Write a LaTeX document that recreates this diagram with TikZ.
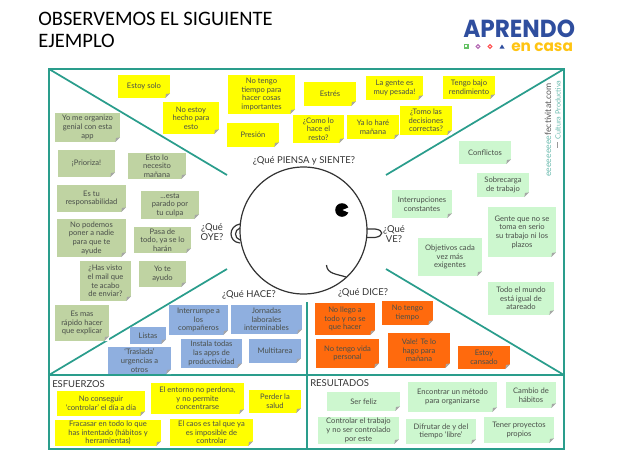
\documentclass[tikz,border=0pt]{standalone}
\usepackage{fontspec}
\usepackage{xcolor}
\setmainfont{Lato}
\newfontfamily\titlefont{Carlito}
\newfontfamily\logofont{Poppins}
\usetikzlibrary{positioning}
\definecolor{Map_Teal}{HTML}{2A9D8C}
\definecolor{Note_Yellow}{HTML}{FFFF00}
\definecolor{Note_Sage}{HTML}{BFD3A2}
\definecolor{Note_Blue}{HTML}{8FAFDF}
\definecolor{Note_Orange}{HTML}{FF6A0D}
\definecolor{Note_Mint}{HTML}{CDF7CF}
\definecolor{Logo_Blue}{HTML}{2F4E9E}
\definecolor{Logo_Yellow}{HTML}{FFC413}
\definecolor{Note_Ink}{HTML}{4A4F4A}
\tikzset{
    note/.style={inner sep=0pt, align=center, text=Note_Ink, font=\fontsize{5.7}{6.5}\selectfont,
        path picture={
            \fill[white] ([xshift=-3.5pt]path picture bounding box.south east) -- (path picture bounding box.south east) -- ([yshift=3.5pt]path picture bounding box.south east) -- cycle;
            \fill[black!35] ([xshift=-3.5pt]path picture bounding box.south east) -- ([yshift=3.5pt]path picture bounding box.south east) -- ([xshift=-3pt,yshift=3pt]path picture bounding box.south east) -- cycle;
        }},
    heading/.style={text=black!80, align=center, inner sep=0pt, font=\fontsize{7.1}{8}\selectfont},
    mapline/.style={color=Map_Teal, line width=1.3pt},
    facepart/.style={color=black!80, line width=0.9pt}
}
% name, colour, left, top, right, bottom, text
\newcommand{\sticky}[7]{\node[note, fill=#2, minimum width={(#5-#3)*0.75pt}, minimum height={(#6-#4)*0.75pt}] (#1) at ({(#3+#5)/2},{(#4+#6)/2}) {#7};}
\begin{document}
\begin{tikzpicture}[x=0.75pt, y=-0.75pt]
    \useasboundingbox (0,0) rectangle (618,458);

    % Title
    \node[anchor=north west, align=left, inner sep=0pt, font=\titlefont\fontsize{15.4}{16.5}\selectfont] (title) at (38,12) {OBSERVEMOS EL SIGUIENTE\\EJEMPLO};

    % Logo
    \node[anchor=west, inner sep=0pt, text=Logo_Blue, xscale=0.94, font=\logofont\bfseries\fontsize{18.5}{20}\selectfont] (logoname) at (463,29) {APRENDO};
    \node[anchor=west, inner sep=0pt, text=Logo_Yellow, font=\logofont\bfseries\fontsize{11.5}{12}\selectfont] (logocasa) at (511,47.5) {en casa};
    \draw[green!60!black!60, line width=0.8pt] (464.5,44.5) rectangle (468,48);
    \draw[violet!60, line width=0.8pt] (478,46.5) circle (1.8);
    \draw[red!70, line width=0.8pt] (490,46.5) circle (1.8);
    \fill[Logo_Blue] (499.5,48.5) -- (504.5,48.5) -- (502,44.5) -- cycle;

    % Map frame
    \draw[mapline] (49,69) rectangle (564,449);
    \draw[mapline] (49,375) -- (564,375);
    \draw[mapline] (307,302) -- (307,449);
    \draw[mapline] (49,69) -- (227,175);
    \draw[mapline] (564,69) -- (386,175);
    \draw[mapline] (49,375) -- (227,269);
    \draw[mapline] (564,375) -- (386,269);

    % Head
    \draw[facepart] (303.5,230.5) circle (63.5);
    \fill[black] (342,210) circle (6.8);
    \fill[white] (342.5,210) -- (351,206.5) -- (351,213.5) -- cycle;
    \draw[facepart] (240,224) .. controls (228,226) and (228,242) .. (240,243);
    \draw[facepart] (240,228) .. controls (234,230) and (234,238) .. (240,240);
    \draw[facepart] (366.5,229) -- (375,229) .. controls (384,230) and (384,236) .. (375,237.5) -- (366.5,237.5);
    \draw[facepart] (326.5,265) .. controls (327,274) and (337,274) .. (346,277);

    % Brand text
    \node[rotate=90, anchor=west, inner sep=0pt, text=Map_Teal!70, font=\fontsize{6.5}{7}\selectfont] (brandname) at (548,177) {eeeeeeeee\textcolor{black!65}{fectivitat.com}};
    \node[rotate=90, anchor=west, inner sep=0pt, text=Map_Teal!70, font=\fontsize{5.4}{6}\selectfont] (brandline) at (558,140) {Cultura Productiva};
    \draw[black!40, line width=0.4pt] (557,142) -- (557,148);

    % Section headings
    \node[heading] (piensa) at (304,161) {¿Qué PIENSA y SIENTE?};
    \node[heading] (oye) at (212,232) {¿Qué\\OYE?};
    \node[heading] (ve) at (394,234) {¿Qué\\VE?};
    \node[heading] (hace) at (249,295) {¿Qué HACE?};
    \node[heading] (dice) at (363,293) {¿Qué DICE?};
    \node[heading, anchor=west] (esfuerzos) at (52,384) {ESFUERZOS};
    \node[heading, anchor=west] (resultados) at (310,383) {RESULTADOS};

    % Notes: PIENSA y SIENTE
    \sticky{estoysolo}{Note_Yellow}{118}{75}{170}{98}{Estoy solo}
    \sticky{nohecho}{Note_Yellow}{163}{102}{219}{134}{No estoy\\hecho para\\esto}
    \sticky{notiempo}{Note_Yellow}{228}{75}{295}{114}{No tengo\\tiempo para\\hacer cosas\\importantes}
    \sticky{presion}{Note_Yellow}{227}{123}{279}{147}{Presión}
    \sticky{estres}{Note_Yellow}{304}{82}{356}{106}{Estrés}
    \sticky{comolo}{Note_Yellow}{293}{115}{344}{143}{¿Como lo\\hace el\\resto?}
    \sticky{manana}{Note_Yellow}{347}{115}{399}{139}{Ya lo haré\\mañana}
    \sticky{decisiones}{Note_Yellow}{400}{106}{452}{135}{¿Tomo las\\decisiones\\correctas?}
    \sticky{pesada}{Note_Yellow}{366}{76}{423}{100}{La gente es\\muy pesada!}
    \sticky{rendimiento}{Note_Yellow}{443}{76}{495}{99}{Tengo bajo\\rendimiento}

    % Notes: OYE
    \sticky{organizo}{Note_Sage}{55}{113}{120}{142}{Yo me organizo\\genial con esta\\app}
    \sticky{priorizar}{Note_Sage}{58}{150}{115}{177}{¡Prioriza!}
    \sticky{necesito}{Note_Sage}{128}{153}{186}{179}{Esto lo\\necesito\\mañana}
    \sticky{responsable}{Note_Sage}{57}{185}{126}{212}{Es tu\\responsabilidad}
    \sticky{parado}{Note_Sage}{141}{191}{199}{219}{...esta\\parado por\\tu culpa}
    \sticky{nadie}{Note_Sage}{57}{219}{126}{257}{No podemos\\poner a nadie\\para que te\\ayude}
    \sticky{pasade}{Note_Sage}{134}{227}{191}{253}{Pasa de\\todo, ya se lo\\harán}
    \sticky{hasvisto}{Note_Sage}{80}{261}{131}{301}{¿Has visto\\el mail que\\te acabo\\de enviar?}
    \sticky{yoteayudo}{Note_Sage}{139}{261}{186}{287}{Yo te\\ayudo}
    \sticky{esmas}{Note_Sage}{55}{305}{109}{341}{Es mas\\rápido hacer\\que explicar}

    % Notes: HACE
    \sticky{listas}{Note_Blue}{130}{327}{166}{344}{Listas}
    \sticky{traslada}{Note_Blue}{108}{347}{171}{374}{‘Traslada’\\urgencias a\\otros}
    \sticky{interrumpe}{Note_Blue}{169}{305}{228}{335}{Interrumpe a\\los\\compañeros}
    \sticky{jornadas}{Note_Blue}{231}{305}{302}{334}{Jornadas\\laborales\\interminables}
    \sticky{instala}{Note_Blue}{181}{339}{242}{368}{Instala todas\\las apps de\\productividad}
    \sticky{multitarea}{Note_Blue}{249}{339}{301}{363}{Multitarea}

    % Notes: DICE
    \sticky{nollego}{Note_Orange}{315}{303}{375}{335}{No llego a\\todo y no se\\que hacer}
    \sticky{tiempodice}{Note_Orange}{382}{301}{433}{325}{No tengo\\tiempo}
    \sticky{vida}{Note_Orange}{316}{339}{379}{368}{No tengo vida\\personal}
    \sticky{vale}{Note_Orange}{388}{333}{450}{368}{Vale! Te lo\\hago para\\mañana}
    \sticky{cansado}{Note_Orange}{458}{346}{510}{369}{Estoy\\cansado}

    % Notes: VE
    \sticky{conflictos}{Note_Mint}{459}{141}{511}{164}{Conflictos}
    \sticky{sobrecarga}{Note_Mint}{477}{173}{529}{197}{Sobrecarga\\de trabajo}
    \sticky{interrupciones}{Note_Mint}{392}{190}{452}{218}{Interrupciones\\constantes}
    \sticky{gente}{Note_Mint}{488}{207}{556}{257}{Gente que no se\\toma en serio\\su trabajo ni los\\plazos}
    \sticky{objetivos}{Note_Mint}{418}{238}{482}{276}{Objetivos cada\\vez más\\exigentes}
    \sticky{todoelmundo}{Note_Mint}{488}{282}{554}{315}{Todo el mundo\\está igual de\\atareado}

    % Notes: ESFUERZOS
    \sticky{noconseguir}{Note_Yellow}{57}{391}{145}{416}{No conseguir\\‘controlar’ el día a día}
    \sticky{entorno}{Note_Yellow}{151}{383}{244}{414}{El entorno no perdona,\\y no permite\\concentrarse}
    \sticky{salud}{Note_Yellow}{249}{390}{301}{413}{Perder la\\salud}
    \sticky{fracasar}{Note_Yellow}{55}{420}{161}{446}{Fracasar en todo lo que\\has intentado (hábitos y\\herramientas)}
    \sticky{caos}{Note_Yellow}{170}{419}{253}{446}{El caos es tal que ya\\es imposible de\\controlar}

    % Notes: RESULTADOS
    \sticky{serfeliz}{Note_Mint}{327}{392}{400}{411}{Ser feliz}
    \sticky{encontrar}{Note_Mint}{408}{382}{497}{412}{Encontrar un método\\para organizarse}
    \sticky{cambio}{Note_Mint}{506}{382}{556}{408}{Cambio de\\hábitos}
    \sticky{controlar}{Note_Mint}{318}{417}{399}{444}{Controlar el trabajo\\y no ser controlado\\por este}
    \sticky{difrutar}{Note_Mint}{406}{419}{476}{444}{Difrutar de y del\\tiempo ‘libre’}
    \sticky{proyectos}{Note_Mint}{484}{417}{554}{443}{Tener proyectos\\propios}
\end{tikzpicture}
\end{document}
